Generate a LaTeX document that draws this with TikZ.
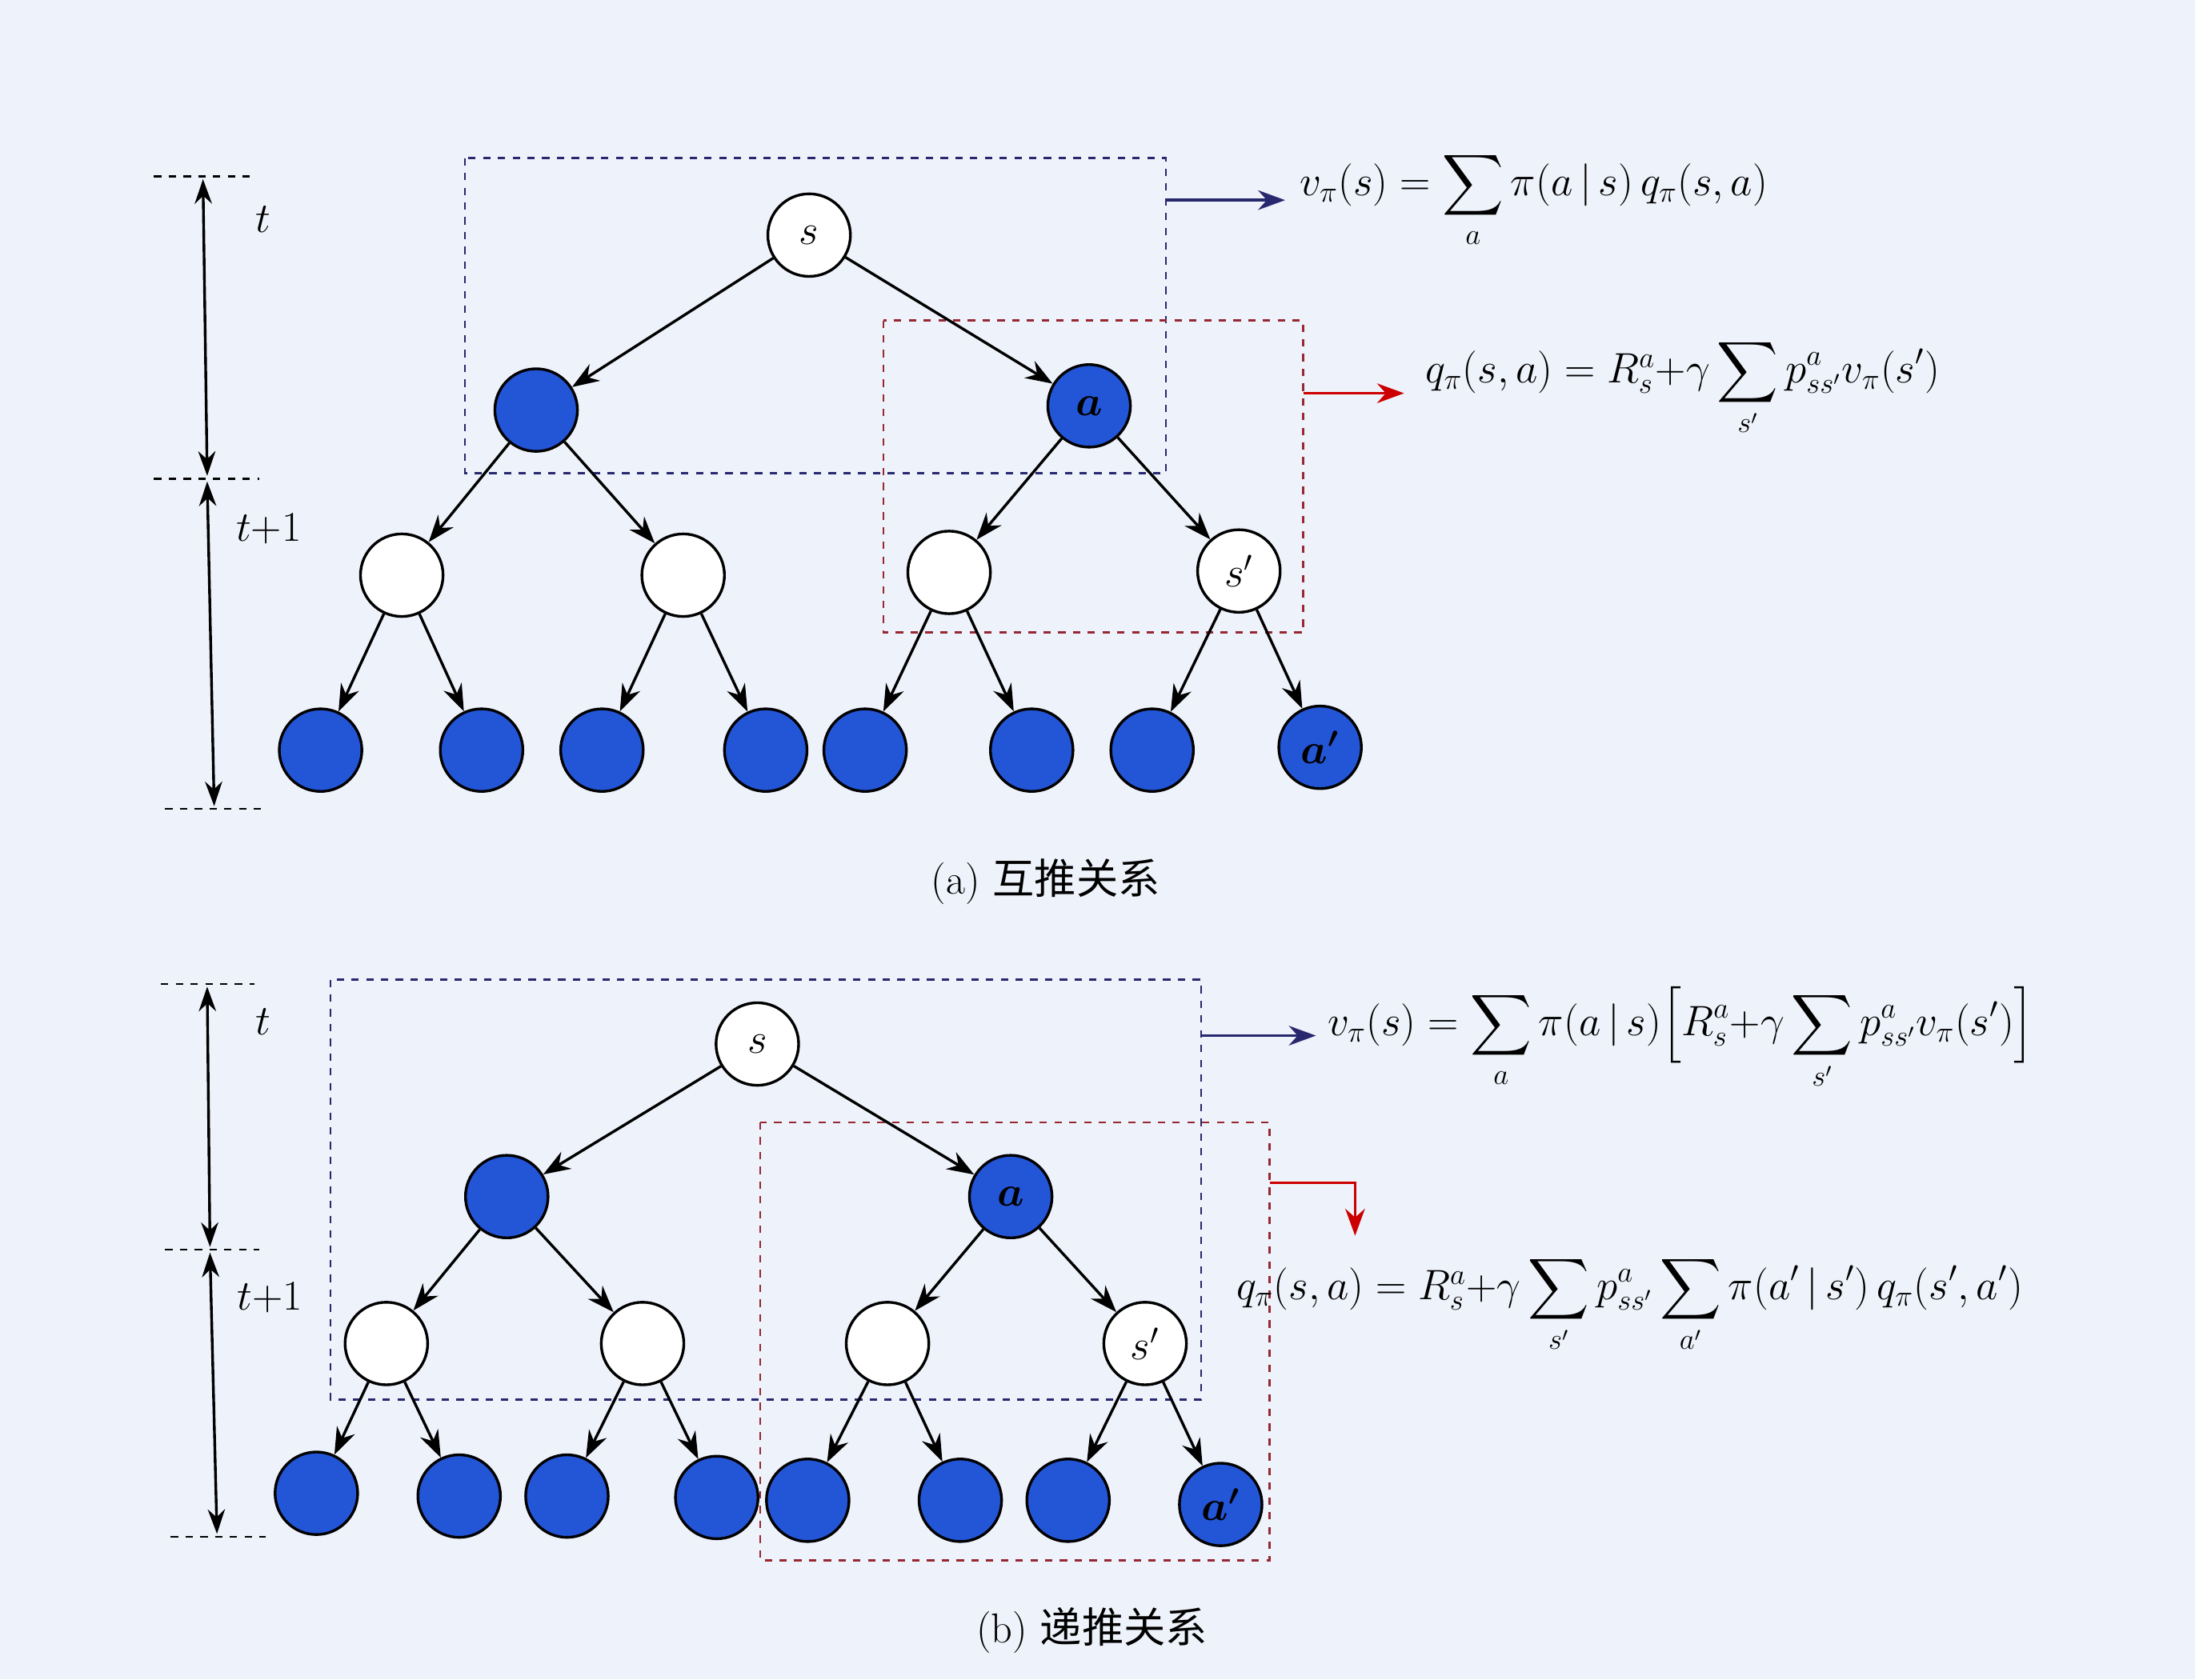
\documentclass[tikz,border=0pt]{standalone}
\usepackage{amsmath}
\usepackage{fontspec}
\newfontfamily\cjk{Noto Sans CJK SC}
\usetikzlibrary{arrows.meta}
\definecolor{bg}{RGB}{238,242,250}
\definecolor{nb}{RGB}{35,85,215}
\definecolor{bx}{RGB}{40,40,110}
\definecolor{rx}{RGB}{150,40,50}
\begin{document}
\begin{tikzpicture}[x=0.02cm,y=-0.02cm,
 every node/.style={font=\fontsize{17}{20}\selectfont},
 w/.style={circle,draw,line width=1.1pt,fill=white,minimum size=1.18cm,inner sep=0pt},
 b/.style={circle,draw,line width=1.1pt,fill=nb,minimum size=1.18cm,inner sep=0pt},
 e/.style={-{Stealth[length=11pt,width=8pt]},line width=1.1pt},
 dl/.style={dashed,thick},
 tk/.style={dashed,thick},
 ta/.style={{Stealth[length=10pt,width=7pt]}-{Stealth[length=10pt,width=7pt]},line width=1.1pt}]
\fill[bg] (0,0) rectangle (1568,1200);
\useasboundingbox (0,0) rectangle (1568,1200);
% ---------- (a)
\draw[dl,bx] (332,113) rectangle (833,338);
\draw[dl,rx] (631,229) rectangle (931,452);
\node[w] (s) at (578,168) {$s$};
\node[b] (a1) at (383,293) {};
\node[b] (a2) at (778,290) {$\boldsymbol{a}$};
\node[w] (w1) at (287,411) {};
\node[w] (w2) at (488,411) {};
\node[w] (w3) at (678,409) {};
\node[w] (w4) at (885,408) {$s'$};
\foreach \i/\x in {1/229,2/344,3/430,4/547,5/618,6/737,7/823}{\node[b] (l\i) at (\x,536) {};}
\node[b] (l8) at (943,534) {$\boldsymbol{a'}$};
\draw[e] (s)--(a1); \draw[e] (s)--(a2);
\draw[e] (a1)--(w1); \draw[e] (a1)--(w2); \draw[e] (a2)--(w3); \draw[e] (a2)--(w4);
\draw[e] (w1)--(l1); \draw[e] (w1)--(l2); \draw[e] (w2)--(l3); \draw[e] (w2)--(l4);
\draw[e] (w3)--(l5); \draw[e] (w3)--(l6); \draw[e] (w4)--(l7); \draw[e] (w4)--(l8);
\coordinate (ta0) at (110,126); \coordinate (ta0e) at (182,126);
\coordinate (ta1) at (110,342); \coordinate (ta1e) at (185,342);
\coordinate (ta2) at (118,578); \coordinate (ta2e) at (188,578);
\draw[tk] (ta0)--(ta0e); \draw[tk] (ta1)--(ta1e); \draw[tk] (ta2)--(ta2e);
\coordinate (p0) at (145,128); \coordinate (p1) at (148,340); \coordinate (p1b) at (148,344); \coordinate (p2) at (153,576);
\draw[ta] (p0)--(p1); \draw[ta] (p1b)--(p2);
\node (t1) at (188,157) {$t$};
\node (t2) at (192,378) {$t{+}1$};
\coordinate (ba0) at (833,143); \coordinate (ba1) at (918,143);
\draw[e,bx] (ba0)--(ba1);
\node[anchor=west,inner sep=0] (f1) at (928,143) {$v_\pi(s)=\displaystyle\sum_a\pi(a\,|\,s)\,q_\pi(s,a)$};
\coordinate (ra0) at (931,281); \coordinate (ra1) at (1003,281);
\draw[e,red!80!black] (ra0)--(ra1);
\node[anchor=west,inner sep=0] (f2) at (1018,277) {$q_\pi(s,a)=R^a_s{+}\gamma\displaystyle\sum_{s'}p^a_{ss'}v_\pi(s')$};
\node (ca) at (747,630) {(a) {\cjk 互推关系}};
% ---------- (b)
\draw[dl,bx] (236,700) rectangle (858,1000);
\draw[dl,rx] (543,802) rectangle (907,1115);
\node[w] (S) at (541,746) {$s$};
\node[b] (A1) at (362,855) {};
\node[b] (A2) at (722,855) {$\boldsymbol{a}$};
\node[w] (W1) at (276,960) {};
\node[w] (W2) at (459,960) {};
\node[w] (W3) at (634,960) {};
\node[w] (W4) at (818,960) {$s'$};
\foreach \i/\x/\y in {1/226/1067,2/328/1069,3/405/1069,4/512/1070,5/577/1072,6/686/1072,7/763/1072}{\node[b] (L\i) at (\x,\y) {};}
\node[b] (L8) at (872,1075) {$\boldsymbol{a'}$};
\draw[e] (S)--(A1); \draw[e] (S)--(A2);
\draw[e] (A1)--(W1); \draw[e] (A1)--(W2); \draw[e] (A2)--(W3); \draw[e] (A2)--(W4);
\draw[e] (W1)--(L1); \draw[e] (W1)--(L2); \draw[e] (W2)--(L3); \draw[e] (W2)--(L4);
\draw[e] (W3)--(L5); \draw[e] (W3)--(L6); \draw[e] (W4)--(L7); \draw[e] (W4)--(L8);
\coordinate (tb0) at (115,703); \coordinate (tb0e) at (182,703);
\coordinate (tb1) at (118,893); \coordinate (tb1e) at (185,893);
\coordinate (tb2) at (122,1098); \coordinate (tb2e) at (190,1098);
\draw[tk] (tb0)--(tb0e); \draw[tk] (tb1)--(tb1e); \draw[tk] (tb2)--(tb2e);
\coordinate (q0) at (148,705); \coordinate (q1) at (150,891); \coordinate (q1b) at (150,895); \coordinate (q2) at (155,1096);
\draw[ta] (q0)--(q1); \draw[ta] (q1b)--(q2);
\node (T1) at (188,730) {$t$};
\node (T2) at (193,927) {$t{+}1$};
\coordinate (bb0) at (858,740); \coordinate (bb1) at (940,740);
\draw[e,bx] (bb0)--(bb1);
\node[anchor=west,inner sep=0] (F1) at (948,742) {$v_\pi(s)=\displaystyle\sum_a\pi(a\,|\,s)\Big[R^a_s{+}\gamma\sum_{s'}p^a_{ss'}v_\pi(s')\Big]$};
\coordinate (rb0) at (907,845); \coordinate (rb1) at (968,845); \coordinate (rb2) at (968,883);
\draw[e,red!80!black] (rb0)--(rb1)--(rb2);
\node[anchor=west,inner sep=0] (F2) at (883,932) {$q_\pi(s,a)=R^a_s{+}\gamma\displaystyle\sum_{s'}p^a_{ss'}\sum_{a'}\pi(a'\,|\,s')\,q_\pi(s',a')$};
\node (cb) at (780,1165) {(b) {\cjk 递推关系}};
\end{tikzpicture}
\end{document}
